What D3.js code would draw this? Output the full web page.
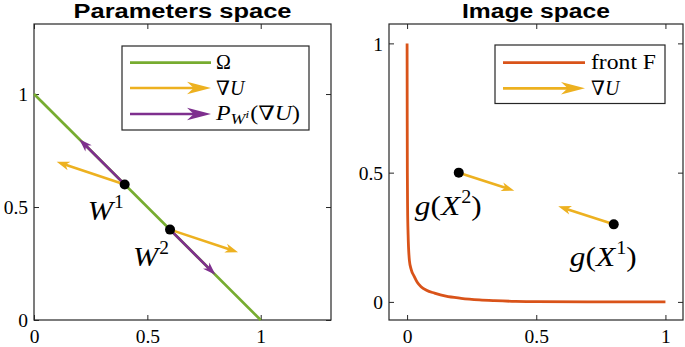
<!DOCTYPE html>
<html>
<head>
<meta charset="utf-8">
<script src="https://cdn.jsdelivr.net/npm/d3@7"></script>
<style>
  body { margin: 0; background: #fff; }
</style>
</head>
<body>
<div id="chart"></div>
<script>
// ---- data ----
const tickVals = [0, 0.5, 1];
const tickText = ["0", "0.5", "1"];

// parameters space
const omegaX = [0, 1];
const omegaY = [1, 0];
const wNames = ["1", "2"];
const wX = [0.4, 0.6];
const wY = [0.6, 0.4];
const gradDX = [-0.3, 0.3];
const gradDY = [0.1, -0.1];
const projDX = [-0.2, 0.2];
const projDY = [0.2, -0.2];

// image space
const frontX = [0, 0.0005, 0.001, 0.002, 0.004, 0.009, 0.016, 0.028, 0.04, 0.054, 0.075, 0.106, 0.15, 0.209, 0.28, 0.338, 0.42, 0.5, 0.7, 1];
const frontY = [1, 0.7, 0.5, 0.36, 0.26, 0.16, 0.125, 0.098, 0.075, 0.059, 0.045, 0.034, 0.022, 0.014, 0.008, 0.005, 0.002, 0.001, 0, 0];
const gNames = ["1", "2"];
const gX = [0.8, 0.2];
const gY = [0.3, 0.5];
const gGradDX = [-0.215, 0.215];
const gGradDY = [0.07, -0.07];

const colGreen = "#77AC30", colOrange = "#EDB120", colPurple = "#7E2F8E", colRed = "#D95319";
const axisCol = "#262626";
const serif = "'Liberation Serif', 'DejaVu Serif', serif";

const width = 685, height = 347;
const svg = d3.select("#chart").append("svg")
  .attr("width", width).attr("height", height);

// scales
const xL = d3.scaleLinear().domain([0, 1.31]).range([34, 331]);
const yL = d3.scaleLinear().domain([0, 1.31]).range([320, 24]);
const xR = d3.scaleLinear().domain([-0.07, 1.068]).range([389, 683]);
const yR = d3.scaleLinear().domain([-0.07, 1.075]).range([320, 24]);

function drawAxes(x, y) {
  const [x0, x1] = x.range(), [y0, y1] = y.range();
  const g = svg.append("g");
  const fmt = (d) => tickText[tickVals.indexOf(d)];

  const bottom = g.append("g").attr("transform", `translate(0,${y0})`)
    .call(d3.axisBottom(x).tickValues(tickVals).tickSize(-5).tickPadding(5).tickFormat(fmt));
  g.append("g").attr("transform", `translate(0,${y1})`)
    .call(d3.axisTop(x).tickValues(tickVals).tickSize(-5).tickFormat(""));
  const left = g.append("g").attr("transform", `translate(${x0},0)`)
    .call(d3.axisLeft(y).tickValues(tickVals).tickSize(-5).tickPadding(6).tickFormat(fmt));
  g.append("g").attr("transform", `translate(${x1},0)`)
    .call(d3.axisRight(y).tickValues(tickVals).tickSize(-5).tickFormat(""));

  g.selectAll(".domain").remove();
  g.selectAll(".tick line").attr("stroke", axisCol);
  g.selectAll(".tick text")
    .attr("fill", "#000")
    .style("font-family", serif)
    .style("font-size", "19.5px");
  bottom.selectAll(".tick text").attr("dy", "0.9em");
  left.selectAll(".tick text").attr("dy", "0.34em");

  g.append("rect")
    .attr("x", x0).attr("y", y1)
    .attr("width", x1 - x0).attr("height", y0 - y1)
    .attr("fill", "none").attr("stroke", axisCol).attr("stroke-width", 1.2);
}

function arrow(g, x0, y0, x1, y1, color, hl, hw, lw) {
  const dx = x1 - x0, dy = y1 - y0, len = Math.hypot(dx, dy);
  const ux = dx / len, uy = dy / len, nx = -uy, ny = ux;
  const bx = x1 - ux * hl, by = y1 - uy * hl;
  const notch = hl * 0.72;
  g.append("line")
    .attr("x1", x0).attr("y1", y0)
    .attr("x2", x1 - ux * hl * 0.6).attr("y2", y1 - uy * hl * 0.6)
    .attr("stroke", color).attr("stroke-width", lw);
  g.append("path")
    .attr("d", `M${x1},${y1}L${bx + nx * hw},${by + ny * hw}L${x1 - ux * notch},${y1 - uy * notch}L${bx - nx * hw},${by - ny * hw}Z`)
    .attr("fill", color);
}

function title(cx, txt, len) {
  svg.append("text")
    .attr("x", cx).attr("y", 18)
    .attr("text-anchor", "middle")
    .attr("textLength", len)
    .attr("lengthAdjust", "spacingAndGlyphs")
    .style("font-family", "'Liberation Sans', Arial, sans-serif")
    .style("font-weight", "bold")
    .style("font-size", "20px")
    .text(txt);
}

// ---------- left panel ----------
drawAxes(xL, yL);
title(182.5, "Parameters space", 218);

const left = svg.append("g");
left.append("path")
  .datum(omegaX.map((d, i) => [d, omegaY[i]]))
  .attr("d", d3.line().x(d => xL(d[0])).y(d => yL(d[1])))
  .attr("stroke", colGreen).attr("stroke-width", 2.7).attr("fill", "none");

wX.forEach((d, i) => {
  arrow(left, xL(d), yL(wY[i]), xL(d + gradDX[i]), yL(wY[i] + gradDY[i]), colOrange, 13, 4.5, 2.6);
});
wX.forEach((d, i) => {
  arrow(left, xL(d), yL(wY[i]), xL(d + projDX[i]), yL(wY[i] + projDY[i]), colPurple, 13, 4.5, 2.6);
});
left.selectAll(".wdot")
  .data(wX)
  .enter().append("circle")
  .attr("cx", d => xL(d))
  .attr("cy", (d, i) => yL(wY[i]))
  .attr("r", 5)
  .attr("fill", "#000");

wX.forEach((d, i) => {
  const t = left.append("text")
    .attr("transform", `translate(${xL(d) - 37},${yL(wY[i]) + 36}) scale(1.08,1)`)
    .style("font-family", serif)
    .style("font-size", "28px");
  t.append("tspan").style("font-style", "italic").text("W");
  t.append("tspan").attr("dx", 1).attr("dy", -12).style("font-size", "18px").text(wNames[i]);
});

// left legend
const legL = svg.append("g");
legL.append("rect")
  .attr("x", 122).attr("y", 46).attr("width", 187).attr("height", 84)
  .attr("fill", "#fff").attr("stroke", axisCol).attr("stroke-width", 1.2);
legL.append("line")
  .attr("x1", 130).attr("x2", 211).attr("y1", 62.7).attr("y2", 62.7)
  .attr("stroke", colGreen).attr("stroke-width", 2.7);
arrow(legL, 130, 88, 211, 88, colOrange, 24, 6.3, 2.7);
arrow(legL, 130, 114, 211, 114, colPurple, 24, 6.3, 2.7);

const lt = legL.append("g").style("font-family", serif).style("font-size", "20px");
lt.append("text").attr("x", 216).attr("y", 69).text("Ω");
const l2 = lt.append("text").attr("x", 216).attr("y", 94.5);
l2.append("tspan").text("∇");
l2.append("tspan").style("font-style", "italic").text("U");
const l3 = lt.append("text").attr("x", 216).attr("y", 119.5)
  .attr("textLength", 84).attr("lengthAdjust", "spacingAndGlyphs");
l3.append("tspan").style("font-style", "italic").text("P");
l3.append("tspan").attr("dy", 4).style("font-style", "italic").style("font-size", "15px").text("W");
l3.append("tspan").attr("dy", -6).style("font-style", "italic").style("font-size", "11px").text("i");
l3.append("tspan").attr("dx", 1).attr("dy", 2).text("(∇");
l3.append("tspan").style("font-style", "italic").text("U");
l3.append("tspan").text(")");

// ---------- right panel ----------
drawAxes(xR, yR);
title(536, "Image space", 148);

const right = svg.append("g");
right.append("path")
  .datum(frontX.map((d, i) => [d, frontY[i]]))
  .attr("d", d3.line().curve(d3.curveMonotoneX).x(d => xR(d[0])).y(d => yR(d[1])))
  .attr("stroke", colRed).attr("stroke-width", 2.8).attr("fill", "none");

gX.forEach((d, i) => {
  arrow(right, xR(d), yR(gY[i]), xR(d + gGradDX[i]), yR(gY[i] + gGradDY[i]), colOrange, 13, 4.5, 2.6);
});
right.selectAll(".gdot")
  .data(gX)
  .enter().append("circle")
  .attr("cx", d => xR(d))
  .attr("cy", (d, i) => yR(gY[i]))
  .attr("r", 5)
  .attr("fill", "#000");

gX.forEach((d, i) => {
  const t = right.append("text")
    .attr("transform", `translate(${xR(d) - 44},${yR(gY[i]) + 42}) scale(1.12,1)`)
    .style("font-family", serif)
    .style("font-size", "28px");
  t.append("tspan").style("font-style", "italic").text("g");
  t.append("tspan").text("(");
  t.append("tspan").style("font-style", "italic").text("X");
  t.append("tspan").attr("dx", 1).attr("dy", -12).style("font-size", "18px").text(gNames[i]);
  t.append("tspan").attr("dy", 12).text(")");
});

// right legend
const legR = svg.append("g");
legR.append("rect")
  .attr("x", 495).attr("y", 45).attr("width", 170).attr("height", 58.5)
  .attr("fill", "#fff").attr("stroke", axisCol).attr("stroke-width", 1.2);
legR.append("line")
  .attr("x1", 503).attr("x2", 585).attr("y1", 62.7).attr("y2", 62.7)
  .attr("stroke", colRed).attr("stroke-width", 2.8);
arrow(legR, 503, 88.3, 585, 88.3, colOrange, 24, 6.3, 2.7);
const rt = legR.append("g").style("font-family", serif).style("font-size", "20px");
rt.append("text").attr("x", 591).attr("y", 69)
  .attr("textLength", 65).attr("lengthAdjust", "spacingAndGlyphs")
  .text("front F");
const r2 = rt.append("text").attr("x", 591).attr("y", 95);
r2.append("tspan").text("∇");
r2.append("tspan").style("font-style", "italic").text("U");
</script>
</body>
</html>
